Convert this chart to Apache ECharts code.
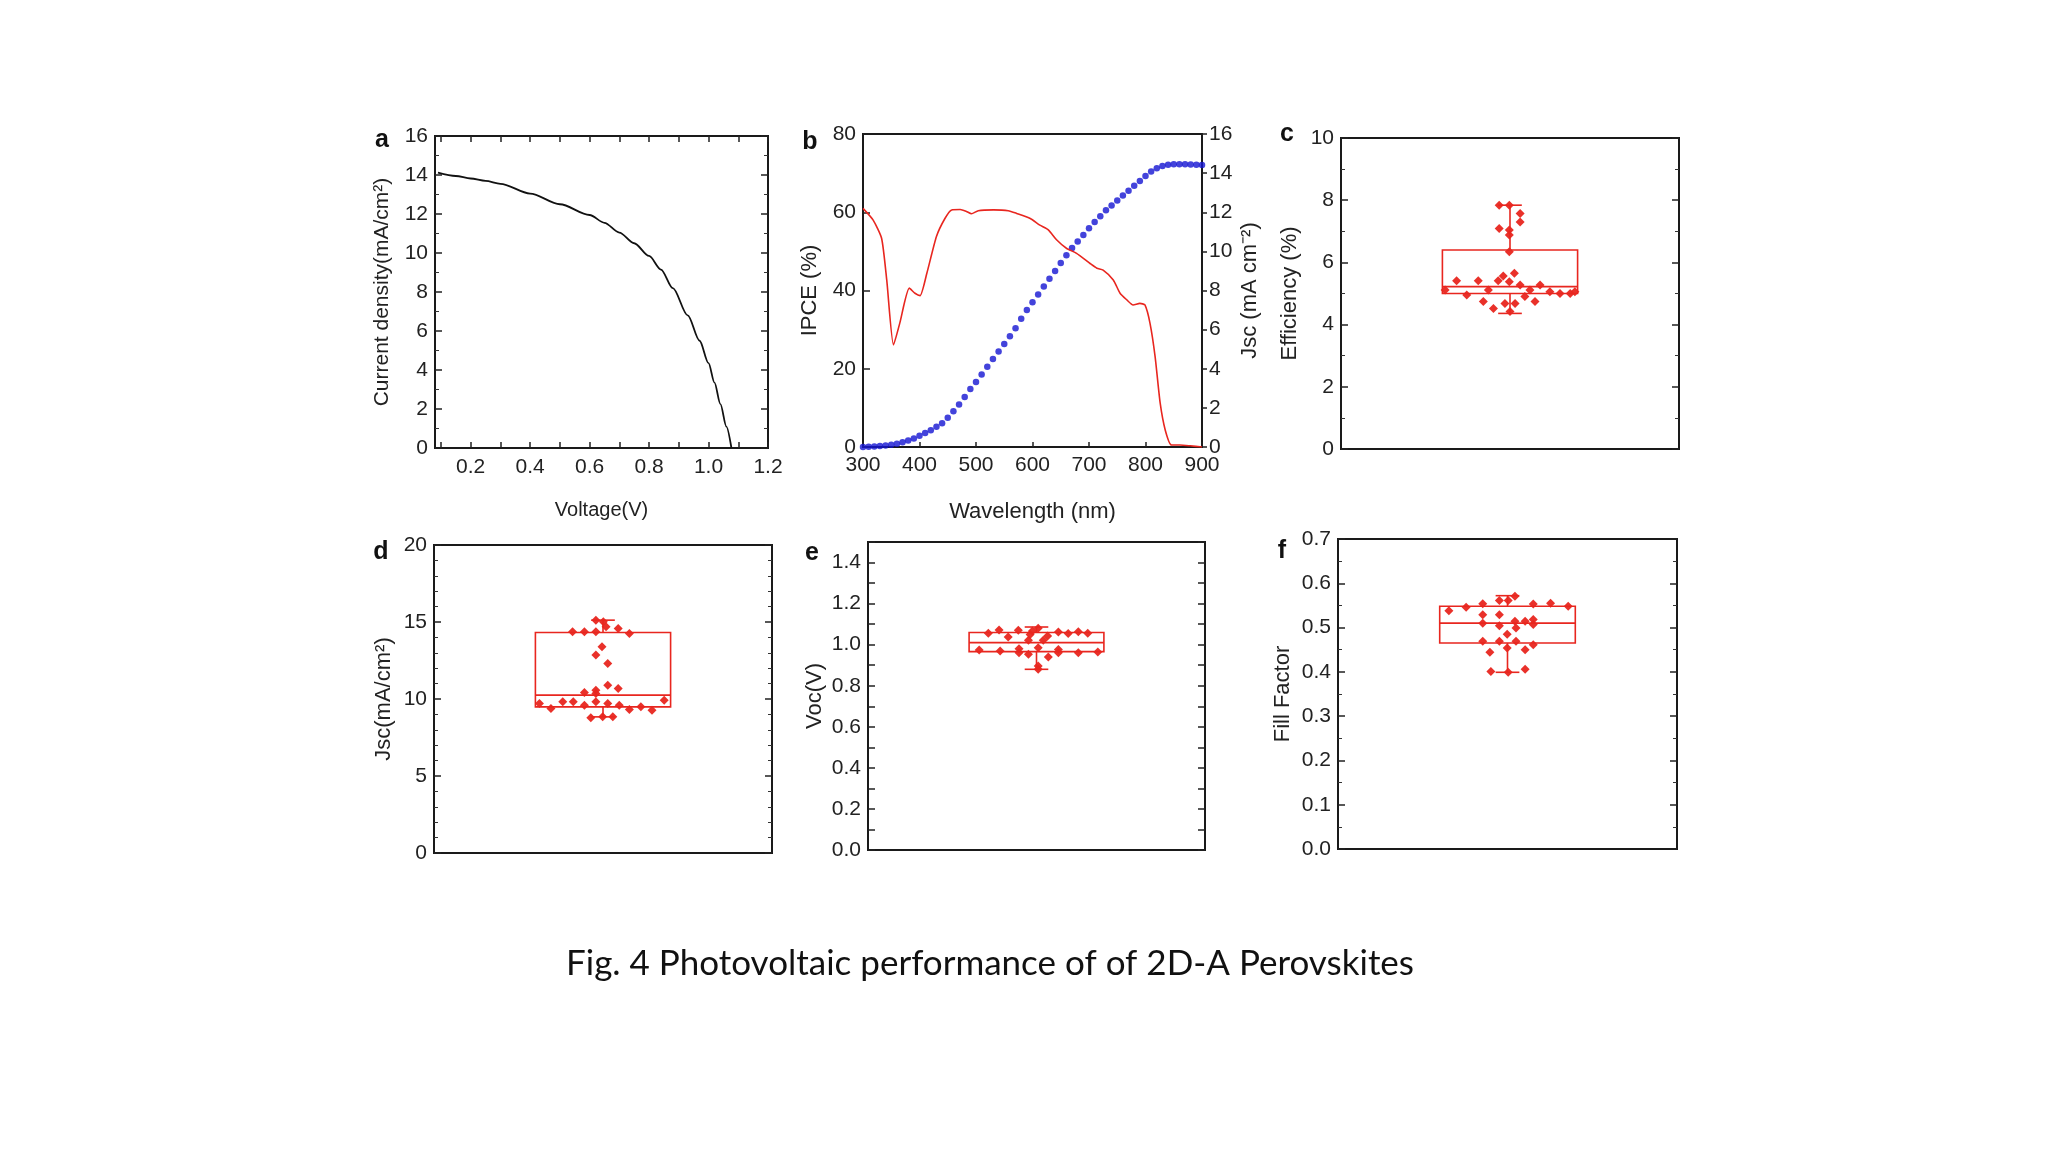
<!DOCTYPE html>
<html>
<head>
<meta charset="utf-8">
<title>Fig. 4</title>
<script src="https://cdn.jsdelivr.net/npm/echarts@6/dist/echarts.min.js"></script>
<style>
html, body { margin: 0; padding: 0; background: #fff; }
#chart-fig4 { width: 2048px; height: 1152px; }
</style>
</head>
<body>
<div id="chart-fig4"></div>
<script>
// a: J-V curve
var jvVoltage = [0.09, 0.15, 0.2, 0.25, 0.3, 0.4, 0.5, 0.6, 0.65, 0.7, 0.75, 0.8, 0.84, 0.88, 0.93, 0.97, 1.0, 1.02, 1.04, 1.06, 1.077];
var jvCurrent = [14.12, 13.95, 13.82, 13.7, 13.55, 13.05, 12.5, 11.95, 11.55, 11.05, 10.5, 9.85, 9.15, 8.2, 6.8, 5.5, 4.35, 3.35, 2.25, 1.1, 0];
var jvTicks = [0.2, 0.4, 0.6, 0.8, 1.0, 1.2];
var jvMinor = [0.1, 0.2, 0.3, 0.4, 0.5, 0.6, 0.7, 0.8, 0.9, 1.0, 1.1, 1.2];

// b: IPCE (left axis) and integrated Jsc (right axis)
var ipceWl = [300, 318, 333, 342, 354, 365, 382, 392, 401, 413, 430, 445, 457, 472, 483, 492, 504, 531, 557, 572, 596, 613, 628, 643, 660, 678, 702, 714, 725, 743, 755, 767, 778, 790, 799, 808, 817, 826, 835, 846, 861, 879, 900];
var ipceVal = [61.0, 58.0, 53.3, 42.7, 26.1, 31.6, 40.6, 39.3, 38.7, 44.4, 53.8, 58.4, 60.6, 60.7, 60.2, 59.6, 60.4, 60.6, 60.4, 59.7, 58.4, 56.7, 55.5, 52.9, 50.8, 49.5, 46.9, 45.7, 45.2, 42.7, 39.3, 37.6, 36.3, 36.7, 36.3, 31.6, 23.1, 11.2, 4.3, 0.5, 0.5, 0.3, 0];
var jscWl = [300, 310, 320, 330, 340, 350, 360, 370, 380, 390, 400, 410, 420, 430, 440, 450, 460, 470, 480, 490, 500, 510, 520, 530, 540, 550, 560, 570, 580, 590, 600, 610, 620, 630, 640, 650, 660, 670, 680, 690, 700, 710, 720, 730, 740, 750, 760, 770, 780, 790, 800, 810, 820, 830, 840, 850, 860, 870, 880, 890, 900];
var jscVal = [0.0, 0.01, 0.03, 0.05, 0.08, 0.12, 0.17, 0.24, 0.33, 0.44, 0.57, 0.71, 0.86, 1.03, 1.22, 1.5, 1.83, 2.17, 2.56, 2.96, 3.32, 3.7, 4.1, 4.5, 4.88, 5.27, 5.66, 6.07, 6.55, 7.0, 7.4, 7.8, 8.2, 8.6, 9.0, 9.4, 9.8, 10.17, 10.5, 10.84, 11.18, 11.5, 11.8, 12.1, 12.35, 12.6, 12.85, 13.1, 13.35, 13.6, 13.85, 14.08, 14.25, 14.37, 14.43, 14.45, 14.45, 14.45, 14.44, 14.43, 14.42];

// c-f: box stats [lower whisker, Q1, median, Q3, upper whisker] + device points (x = jitter)
var effBox = [4.36, 5.0, 5.22, 6.4, 7.84];
var effJitter = [-0.192, -0.158, -0.128, -0.094, -0.079, -0.064, -0.049, -0.035, -0.032, -0.032, -0.020, -0.015, -0.002, -0.002, -0.002, -0.002, -0.002, 0.0, 0.013, 0.015, 0.030, 0.030, 0.030, 0.044, 0.059, 0.074, 0.089, 0.118, 0.148, 0.178, 0.192];
var effValue = [5.11, 5.41, 4.95, 5.41, 4.74, 5.11, 4.52, 5.41, 7.84, 7.09, 5.56, 4.68, 7.84, 7.04, 6.88, 6.34, 5.38, 4.42, 5.65, 4.68, 7.57, 7.30, 5.27, 4.90, 5.11, 4.74, 5.27, 5.06, 5.0, 5.0, 5.06];

var jscBox = [8.84, 9.49, 10.25, 14.32, 15.12];
var jscJitter = [-0.188, -0.154, -0.119, -0.090, -0.088, -0.055, -0.055, -0.055, -0.036, -0.021, -0.021, -0.021, -0.021, -0.021, -0.021, -0.003, -0.001, 0.001, 0.009, 0.014, 0.014, 0.014, 0.029, 0.045, 0.045, 0.048, 0.078, 0.078, 0.112, 0.145, 0.181];
var jscValue = [9.71, 9.38, 9.82, 14.37, 9.82, 14.37, 9.6, 10.42, 8.78, 15.12, 14.37, 12.85, 10.36, 9.82, 10.57, 13.39, 8.84, 15.02, 14.69, 12.31, 10.9, 9.71, 8.84, 14.58, 10.68, 9.6, 14.26, 9.32, 9.49, 9.27, 9.92];

var vocBox = [0.88, 0.966, 1.01, 1.059, 1.086];
var vocJitter = [-0.170, -0.143, -0.111, -0.108, -0.084, -0.054, -0.052, -0.052, -0.024, -0.024, -0.019, -0.012, 0.005, 0.005, 0.005, 0.005, 0.020, 0.033, 0.035, 0.065, 0.065, 0.065, 0.094, 0.124, 0.124, 0.152, 0.182];
var vocValue = [0.974, 1.055, 1.072, 0.969, 1.037, 1.07, 0.98, 0.961, 1.021, 0.953, 1.05, 1.067, 1.08, 0.985, 0.896, 0.88, 1.021, 1.042, 0.94, 0.977, 0.961, 1.062, 1.054, 1.063, 0.961, 1.055, 0.964];

var ffBox = [0.399, 0.465, 0.51, 0.548, 0.572];
var ffJitter = [-0.173, -0.122, -0.073, -0.073, -0.073, -0.073, -0.052, -0.049, -0.024, -0.024, -0.024, -0.024, -0.001, -0.001, 0.002, 0.002, 0.022, 0.022, 0.025, 0.025, 0.052, 0.052, 0.052, 0.076, 0.076, 0.076, 0.076, 0.127, 0.179];
var ffValue = [0.538, 0.546, 0.554, 0.529, 0.51, 0.469, 0.444, 0.401, 0.561, 0.529, 0.504, 0.469, 0.485, 0.454, 0.399, 0.561, 0.571, 0.514, 0.499, 0.469, 0.514, 0.45, 0.406, 0.553, 0.518, 0.507, 0.461, 0.555, 0.548];

var NARROW = "'Liberation Sans Narrow', 'Liberation Sans', Arial, sans-serif";
var SANS = "'Liberation Sans', Arial, sans-serif";
var RED = '#e8261f';
var BLUE = '#1414d2';

function zip(a, b) {
	var out = [];
	for (var i = 0; i < a.length; i++) out.push([a[i], b[i]]);
	return out;
}

var nameStyle = { color: '#222', fontSize: 22, fontFamily: SANS };

// value axis with inward ticks, frame comes from grid border
function yAx(grid, pos, min, max, interval, minorSplit, labels) {
	return {
		type: 'value', gridIndex: grid, position: pos, min: min, max: max, interval: interval,
		axisLine: { show: false, onZero: false },
		axisTick: { show: true, inside: true, length: 7, lineStyle: { color: '#222', width: 1.5 } },
		minorTick: { show: minorSplit > 1, splitNumber: minorSplit, length: 4, lineStyle: { color: '#333' } },
		axisLabel: { show: labels, color: '#222', fontSize: 21, fontFamily: NARROW, margin: 7 },
		splitLine: { show: false }
	};
}

function boxX(grid) {
	return { type: 'value', gridIndex: grid, min: -0.5, max: 0.5, show: false, axisLine: { onZero: false } };
}

var grids = [
	{ left: 435, top: 136, width: 333, height: 312 },
	{ left: 863, top: 134, width: 339, height: 313 },
	{ left: 1341, top: 138, width: 338, height: 311 },
	{ left: 434, top: 545, width: 338, height: 308 },
	{ left: 868, top: 542, width: 337, height: 308 },
	{ left: 1338, top: 539, width: 339, height: 310 }
];
grids.forEach(function (g) {
	g.show = true;
	g.borderColor = '#1a1a1a';
	g.borderWidth = 2;
	g.backgroundColor = 'transparent';
	g.containLabel = false;
});

var xAxes = [
	{
		type: 'value', gridIndex: 0, min: 0.08, max: 1.2, position: 'bottom',
		name: 'Voltage(V)', nameLocation: 'middle', nameGap: 52,
		nameTextStyle: { color: '#222', fontSize: 20, fontFamily: NARROW },
		axisLine: { show: false, onZero: false },
		axisTick: { show: true, inside: true, length: 6, customValues: jvMinor, lineStyle: { color: '#222', width: 1.5 } },
		axisLabel: { color: '#222', fontSize: 21, fontFamily: NARROW, margin: 9, customValues: jvTicks, formatter: function (v) { return v.toFixed(1); } },
		splitLine: { show: false }
	},
	{
		type: 'value', gridIndex: 0, min: 0.08, max: 1.2, position: 'top',
		axisLine: { show: false, onZero: false },
		axisTick: { show: true, inside: true, length: 6, customValues: jvMinor, lineStyle: { color: '#222', width: 1.5 } },
		axisLabel: { show: false },
		splitLine: { show: false }
	},
	{
		type: 'value', gridIndex: 1, min: 300, max: 900, interval: 100, position: 'bottom',
		name: 'Wavelength (nm)', nameLocation: 'middle', nameGap: 54,
		nameTextStyle: { color: '#222', fontSize: 22, fontFamily: NARROW },
		axisLine: { show: false, onZero: false },
		axisTick: { show: true, inside: true, length: 5, lineStyle: { color: '#222', width: 1.5 } },
		axisLabel: { color: '#222', fontSize: 21, fontFamily: NARROW, margin: 8 },
		splitLine: { show: false }
	},
	boxX(2), boxX(3), boxX(4), boxX(5)
];

var yA = yAx(0, 'left', 0, 16, 2, 2, true);
yA.name = 'Current density(mA/cm²)'; yA.nameLocation = 'middle'; yA.nameGap = 42; yA.nameTextStyle = { color: '#222', fontSize: 21, fontFamily: SANS };
var yB = yAx(1, 'left', 0, 80, 20, 0, true);
yB.name = 'IPCE (%)'; yB.nameLocation = 'middle'; yB.nameGap = 42; yB.nameTextStyle = nameStyle;
var yB2 = yAx(1, 'right', 0, 16, 2, 0, true);
yB2.axisTick.inside = false;
yB2.axisTick.length = 5;
yB2.axisLabel.margin = 7;
yB2.name = 'Jsc (mA cm⁻²)'; yB2.nameLocation = 'middle'; yB2.nameGap = 37; yB2.nameTextStyle = nameStyle;
var yC = yAx(2, 'left', 0, 10, 2, 2, true);
yC.name = 'Efficiency (%)'; yC.nameLocation = 'middle'; yC.nameGap = 40; yC.nameTextStyle = nameStyle;
var yD = yAx(3, 'left', 0, 20, 5, 5, true);
yD.name = 'Jsc(mA/cm²)'; yD.nameLocation = 'middle'; yD.nameGap = 39; yD.nameTextStyle = nameStyle;
var yE = yAx(4, 'left', 0, 1.5, 0.1, 0, true);
yE.axisLabel.formatter = function (v) { return (Math.round(v * 10) % 2 === 0 && v < 1.45) ? v.toFixed(1) : ''; };
yE.name = 'Voc(V)'; yE.nameLocation = 'middle'; yE.nameGap = 42; yE.nameTextStyle = nameStyle;
var yF = yAx(5, 'left', 0, 0.7, 0.1, 2, true);
yF.axisLabel.formatter = function (v) { return v.toFixed(1); };
yF.name = 'Fill Factor'; yF.nameLocation = 'middle'; yF.nameGap = 44; yF.nameTextStyle = nameStyle;

var yAxes = [
	yA, yAx(0, 'right', 0, 16, 2, 2, false),
	yB, yB2,
	yC, yAx(2, 'right', 0, 10, 2, 2, false),
	yD, yAx(3, 'right', 0, 20, 5, 5, false),
	yE, yAx(4, 'right', 0, 1.5, 0.1, 0, false),
	yF, yAx(5, 'right', 0, 0.7, 0.1, 2, false)
];

// box drawn through the axes: rect Q1-Q3, median, whiskers with short caps
function renderBox(params, api) {
	var hw = 0.2, cw = 0.035;
	var lo = api.value(0), q1 = api.value(1), md = api.value(2), q3 = api.value(3), hi = api.value(4);
	var tl = api.coord([-hw, q3]), br = api.coord([hw, q1]);
	var st = { stroke: RED, lineWidth: 1.6, fill: null };
	function ln(x1, y1, x2, y2) {
		var p1 = api.coord([x1, y1]), p2 = api.coord([x2, y2]);
		return { type: 'line', shape: { x1: p1[0], y1: p1[1], x2: p2[0], y2: p2[1] }, style: st };
	}
	return {
		type: 'group',
		children: [
			{ type: 'rect', shape: { x: tl[0], y: tl[1], width: br[0] - tl[0], height: br[1] - tl[1] }, style: st },
			ln(-hw, md, hw, md),
			ln(0, q3, 0, hi),
			ln(0, q1, 0, lo),
			ln(-cw, hi, cw, hi),
			ln(-cw, lo, cw, lo)
		]
	};
}

function boxSeries(xi, yi, stats, jitter, values) {
	return [
		{ type: 'custom', xAxisIndex: xi, yAxisIndex: yi, renderItem: renderBox, data: [stats], silent: true, z: 2 },
		{ type: 'scatter', xAxisIndex: xi, yAxisIndex: yi, data: zip(jitter, values), symbol: 'diamond', symbolSize: 9, itemStyle: { color: RED, opacity: 0.95 }, z: 3 }
	];
}

var series = [
	{
		type: 'line', xAxisIndex: 0, yAxisIndex: 0, data: zip(jvVoltage, jvCurrent),
		showSymbol: false, smooth: 0.3, smoothMonotone: 'x', lineStyle: { color: '#111', width: 1.8 }
	},
	{
		type: 'line', xAxisIndex: 2, yAxisIndex: 2, data: zip(ipceWl, ipceVal),
		showSymbol: false, smooth: 0.2, lineStyle: { color: RED, width: 1.6 }
	},
	{
		type: 'scatter', xAxisIndex: 2, yAxisIndex: 3, data: zip(jscWl, jscVal),
		symbol: 'circle', symbolSize: 6.5, itemStyle: { color: BLUE }
	}
]
	.concat(boxSeries(3, 4, effBox, effJitter, effValue))
	.concat(boxSeries(4, 6, jscBox, jscJitter, jscValue))
	.concat(boxSeries(5, 8, vocBox, vocJitter, vocValue))
	.concat(boxSeries(6, 10, ffBox, ffJitter, ffValue));

var panelLetters = ['a', 'b', 'c', 'd', 'e', 'f'];
var letterPos = [[382, 140], [810, 142], [1287, 134], [381, 552], [812, 553], [1282, 551]];
var graphics = panelLetters.map(function (t, i) {
	return {
		type: 'text', x: letterPos[i][0], y: letterPos[i][1],
		style: { text: t, font: 'bold 25px ' + SANS, fill: '#111', align: 'center', verticalAlign: 'middle' }
	};
});
graphics.push({
	type: 'text', x: 990, y: 964,
	style: { text: 'Fig. 4 Photovoltaic performance of of 2D-A Perovskites', font: '35px Lato, ' + SANS, fill: '#111', align: 'center', verticalAlign: 'middle' }
});

var myChart = echarts.init(document.getElementById('chart-fig4'));
myChart.setOption({
	backgroundColor: '#fff',
	animation: false,
	grid: grids,
	xAxis: xAxes,
	yAxis: yAxes,
	series: series,
	graphic: graphics
});

window.addEventListener('resize', function () {
	myChart.resize();
});
</script>
</body>
</html>
